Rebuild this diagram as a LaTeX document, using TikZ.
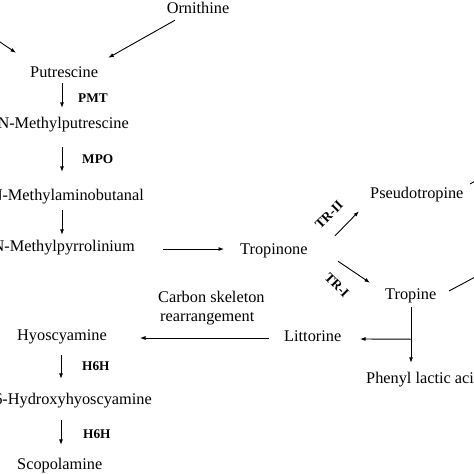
\documentclass[tikz,border=0pt]{standalone}
\usepackage{fontspec}
\setmainfont{Liberation Serif}
\usetikzlibrary{arrows.meta}
\tikzset{
  txt/.style={inner sep=0pt, text height=11pt, text depth=3.5pt, font=\fontsize{16.3}{18}\selectfont},
  enz/.style={inner sep=0pt, font=\fontsize{13.3}{15}\selectfont\bfseries},
  arr/.style={line width=0.9pt, -{Latex[length=5.5pt,width=4pt]}},
  ln/.style={line width=0.9pt}
}
\begin{document}
\begin{tikzpicture}[x=1pt,y=-1pt]
\useasboundingbox (0,0) rectangle (474,474);
% compounds
\node[txt, anchor=base] (orn) at (198,13) {Ornithine};
\node[txt, anchor=base west] (put) at (30,77) {Putrescine};
\node[txt, anchor=base east] (nmp) at (129,128) {N-Methylputrescine};
\node[txt, anchor=base east] (nmab) at (144,200) {N-Methylaminobutanal};
\node[txt, anchor=base east] (nmpy) at (135,251) {N-Methylpyrrolinium};
\node[txt, anchor=base west] (trn) at (240,254) {Tropinone};
\node[txt, anchor=base west] (pst) at (370,198) {Pseudotropine};
\node[txt, anchor=base west] (trp) at (385,299) {Tropine};
\node[txt, anchor=base west] (lit) at (284,341) {Littorine};
\node[txt, anchor=base west] (hyo) at (17,340) {Hyoscyamine};
\node[txt, anchor=base east] (oh) at (152,404) {6-Hydroxyhyoscyamine};
\node[txt, anchor=base west] (sco) at (17,469) {Scopolamine};
\node[txt, anchor=base west] (pla) at (366,383) {Phenyl lactic acid};
\node[txt, anchor=base west] (cs1) at (158,302) {Carbon skeleton};
\node[txt, anchor=base west] (cs2) at (160,321) {rearrangement};
% enzymes
\node[enz, anchor=base west] (pmt) at (78,102) {PMT};
\node[enz, anchor=base west] (mpo) at (82,163) {MPO};
\node[enz, anchor=base west] (h6ha) at (82,370) {H6H};
\node[enz, anchor=base west] (h6hb) at (83,438) {H6H};
\node[enz, rotate=45] (trii) at (329,215) {TR-II};
\node[enz, rotate=-45] (tri) at (337,285) {TR-I};
% free ends
\coordinate (lin) at (-3,40);
\coordinate (rout1) at (477,276);
\coordinate (rout2) at (477,180);
% connectors
\draw[arr] (lin) -- ([shift={(-14,-13)}]put.north west);
\draw[arr] ([shift={(-23,3.5)}]orn.south) -- ([shift={(10,-8)}]put.north east);
\draw[arr] ([shift={(32,2.5)}]put.south west) -- ([shift={(-67,-9)}]nmp.north east);
\draw[arr] ([shift={(-67,15.5)}]nmp.south east) -- ([shift={(-82,-17)}]nmab.north east);
\draw[arr] ([shift={(-82,6.5)}]nmab.south east) -- ([shift={(-73,-5)}]nmpy.north east);
\draw[arr] ([shift={(28,-2)}]nmpy.base east) -- ([shift={(-16,-5)}]trn.base west);
\draw[arr] ([shift={(95,-7)}]trn.north west) -- ([shift={(-11,9.5)}]pst.south west);
\draw[arr] ([shift={(98,3.5)}]trn.south west) -- ([shift={(-15,-5)}]trp.north west);
\draw[arr] ([shift={(26,4.5)}]trp.south west) -- ([shift={(45,-9)}]pla.north west);
\draw[arr] ([shift={(26,36.5)}]trp.south west) -- ([shift={(76,-2)}]lit.base west);
\draw[arr] ([shift={(-15,-3)}]lit.base west) -- ([shift={(123,-2)}]hyo.base west);
\draw[arr] ([shift={(44,11.5)}]hyo.south west) -- ([shift={(-91,-14)}]oh.north east);
\draw[arr] ([shift={(-91,12.5)}]oh.south east) -- ([shift={(44,-13)}]sco.north west);
\draw[ln] ([shift={(64,-8)}]trp.base west) -- (rout1);
\draw[ln] ([shift={(100,-14)}]pst.base west) -- (rout2);
\end{tikzpicture}
\end{document}
